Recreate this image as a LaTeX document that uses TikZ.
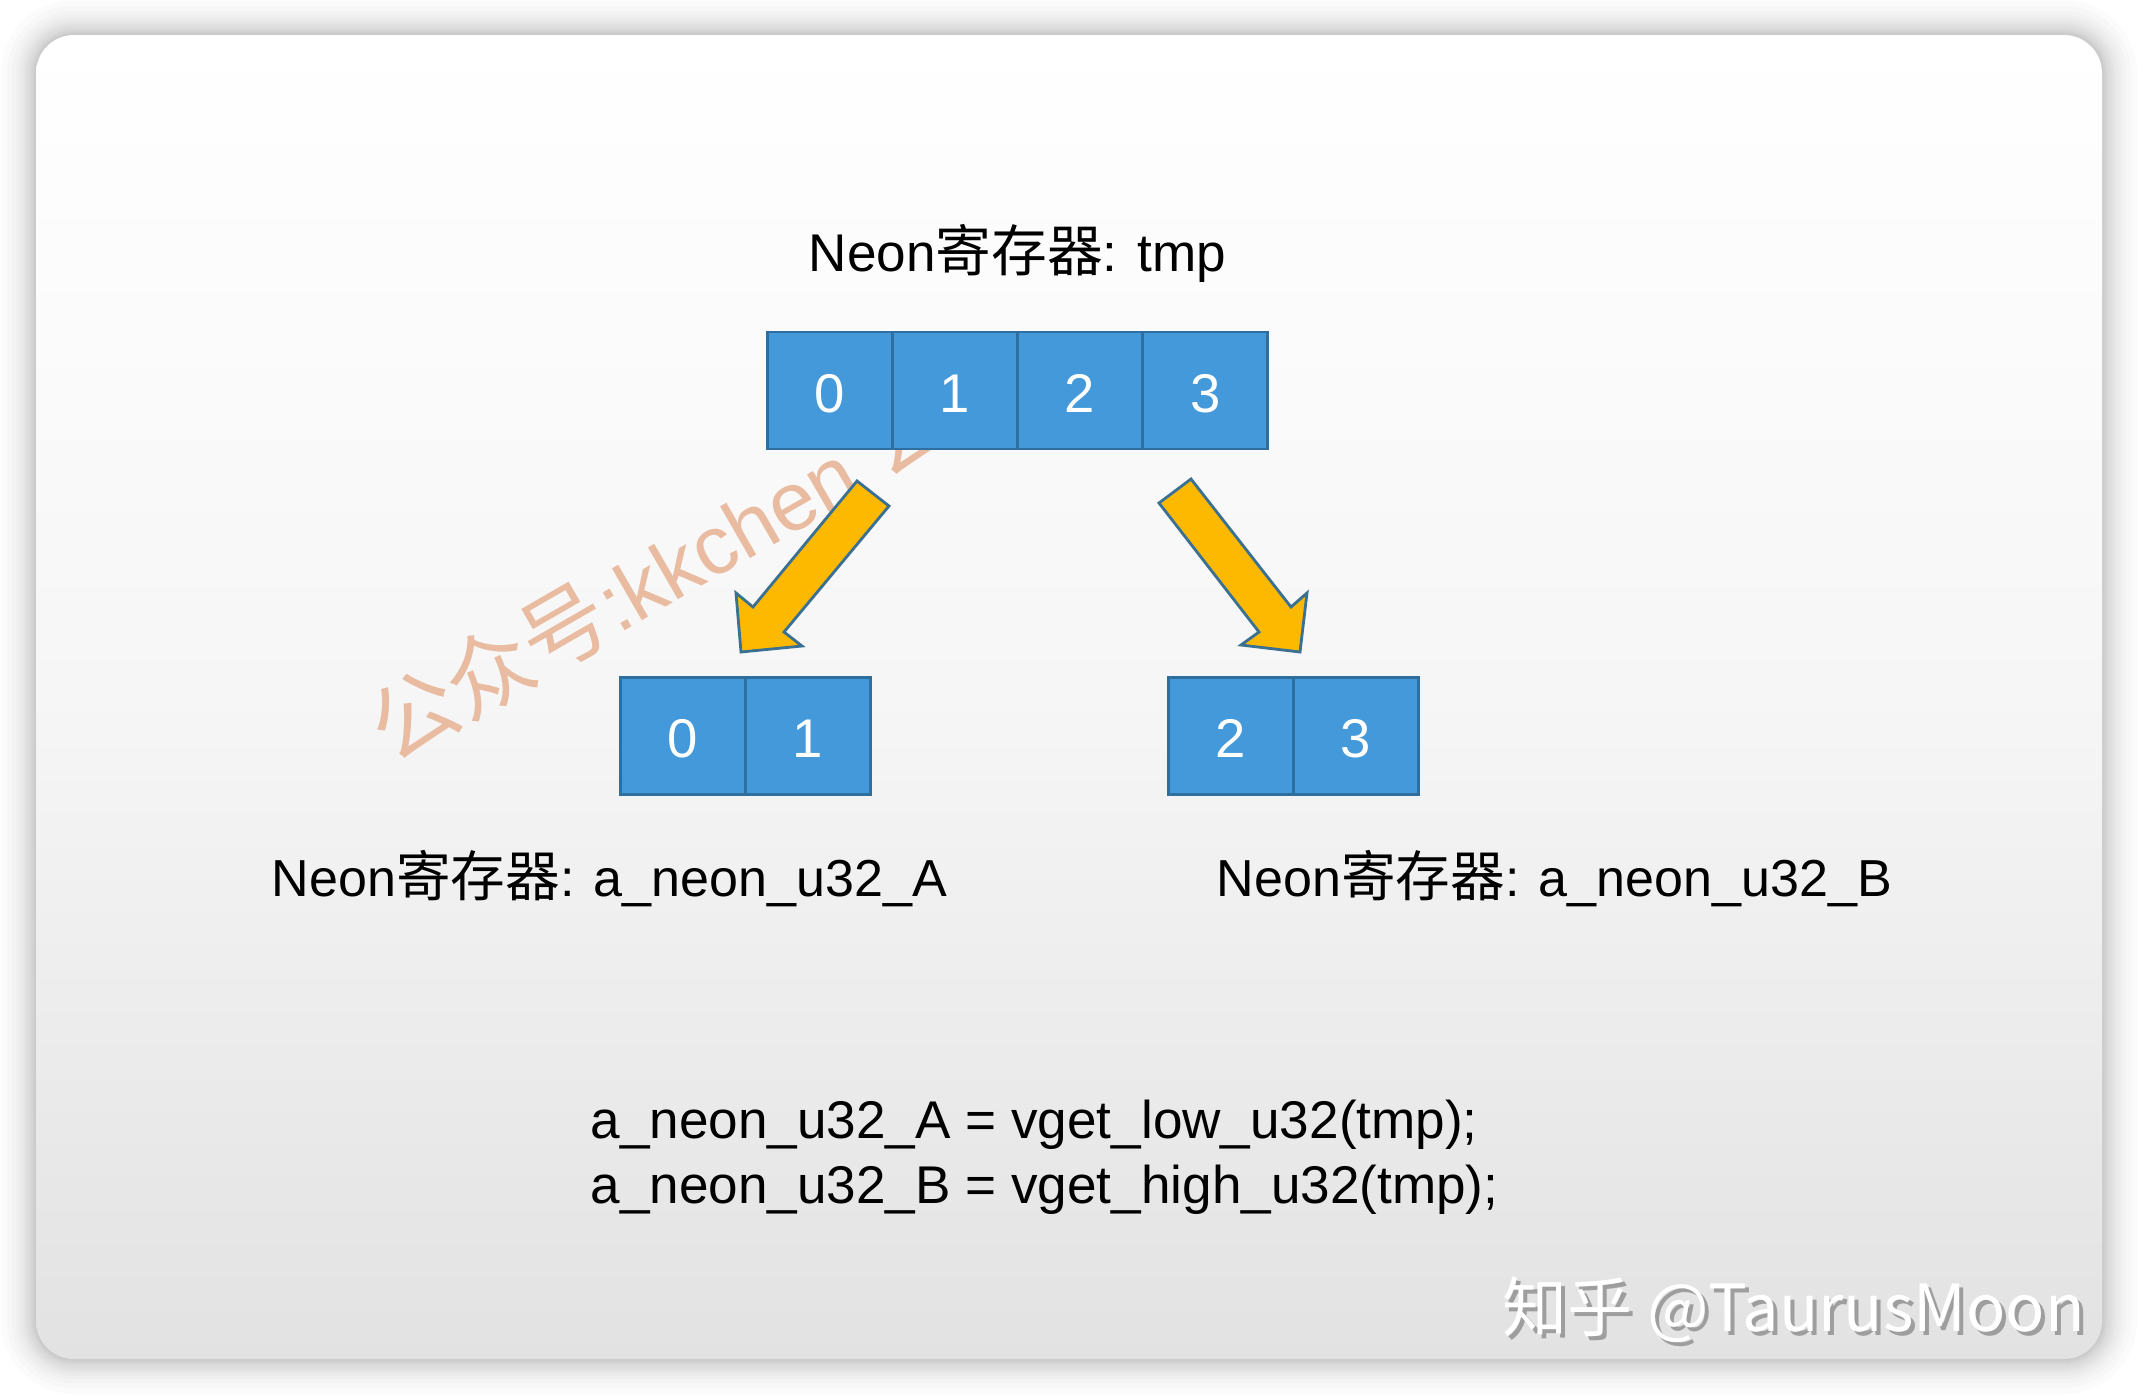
\documentclass[tikz,border=0pt]{standalone}
\usepackage{fontspec}
\setmainfont{Liberation Sans}
\newfontfamily\zhfont[Scale=1.05]{Noto Sans CJK SC}
\usetikzlibrary{positioning}
\definecolor{cellcolor}{RGB}{67,153,218}
\definecolor{celledge}{RGB}{46,111,160}
\definecolor{arrowcolor}{RGB}{253,185,0}
\definecolor{arrowedge}{RGB}{58,112,146}
\definecolor{markcolor}{RGB}{233,187,160}
\definecolor{cardbottom}{RGB}{226,226,226}
\definecolor{cardmiddle}{RGB}{246,246,246}
\newcommand{\zh}[1]{{\zhfont #1}}

\begin{document}
\begin{tikzpicture}[
    x=0.01cm, y=-0.01cm,
    card/.style={rounded corners=0.38cm, top color=white, bottom color=cardbottom, middle color=cardmiddle},
    cell/.style={rectangle, draw=celledge, fill=cellcolor, text=white, line width=0.8pt, minimum width=1.25cm, minimum height=1.17cm, inner sep=0pt, outer sep=0pt, text height=12.3pt, text depth=0pt, font=\fontsize{15.5}{18}\selectfont},
    label/.style={anchor=base west, inner sep=0pt, font=\fontsize{14.8}{18}\selectfont},
    codeline/.style={anchor=base west, inner sep=0pt, font=\fontsize{15.1}{18}\selectfont},
    blockarrow/.style={draw=arrowedge, fill=arrowcolor, line width=0.8pt, line join=miter},
    blogmark/.style={anchor=base west, inner sep=0pt, rotate=30, text=markcolor, font=\fontsize{23.5}{28}\selectfont},
    sign/.style={anchor=base west, inner sep=0pt, font=\fontsize{17.6}{20}\zhfont}
]
\useasboundingbox (0,0) rectangle (2138,1396);

% Shadow and card
\foreach \r [evaluate=\r as \rc using 0.38+0.01*\r] in {1,2,3,4,5,6,8,10,12,14,17,20,24,29,35}
    \fill[black, opacity=0.016, rounded corners=\rc cm] ({36-\r},{35-\r}) rectangle ({2102+\r},{1359+\r});
\path[card] (36,35) rectangle (2102,1359);

% Watermark under the cells
\node[blogmark] (watermark) at (392,765) {\zh{公众号}:kkchen \zh{公}};

% Register tmp
\node[cell] (tmp0) at (830,390.5) {0};
\node[cell, right=0pt of tmp0] (tmp1) {1};
\node[cell, right=0pt of tmp1] (tmp2) {2};
\node[cell, right=0pt of tmp2] (tmp3) {3};

% Register a_neon_u32_A
\node[cell] (lowa) at (683,736) {0};
\node[cell, right=0pt of lowa] (lowb) {1};

% Register a_neon_u32_B
\node[cell] (higha) at (1231,736) {2};
\node[cell, right=0pt of higha] (highb) {3};

% Labels
\node[codeline] (tmplabel) at (808,271) {Neon\zh{寄存器}: tmp};
\node[label] (lowlabel) at (271,896) {Neon\zh{寄存器}: a\_neon\_u32\_A};
\node[label] (highlabel) at (1216,896) {Neon\zh{寄存器}: a\_neon\_u32\_B};
\node[codeline] (lowcode) at (590,1138) {a\_neon\_u32\_A = vget\_low\_u32(tmp);};
\node[codeline] (highcode) at (590,1203) {a\_neon\_u32\_B = vget\_high\_u32(tmp);};

% Block arrows
\draw[blockarrow] (857,481) -- (889,506) -- (784,632) -- (802,646) -- (741,652) -- (736,593) -- (753,607) -- cycle;
\draw[blockarrow] (1191,479) -- (1159,503) -- (1259,632) -- (1241,645) -- (1300,652) -- (1307,593) -- (1291,607) -- cycle;

% Site signature
\node[sign, text=black!38] (signshadow) at (1506,1335) {知乎 @TaurusMoon};
\node[sign, text=white] (signtext) at (1502,1331) {知乎 @TaurusMoon};

\end{tikzpicture}
\end{document}
